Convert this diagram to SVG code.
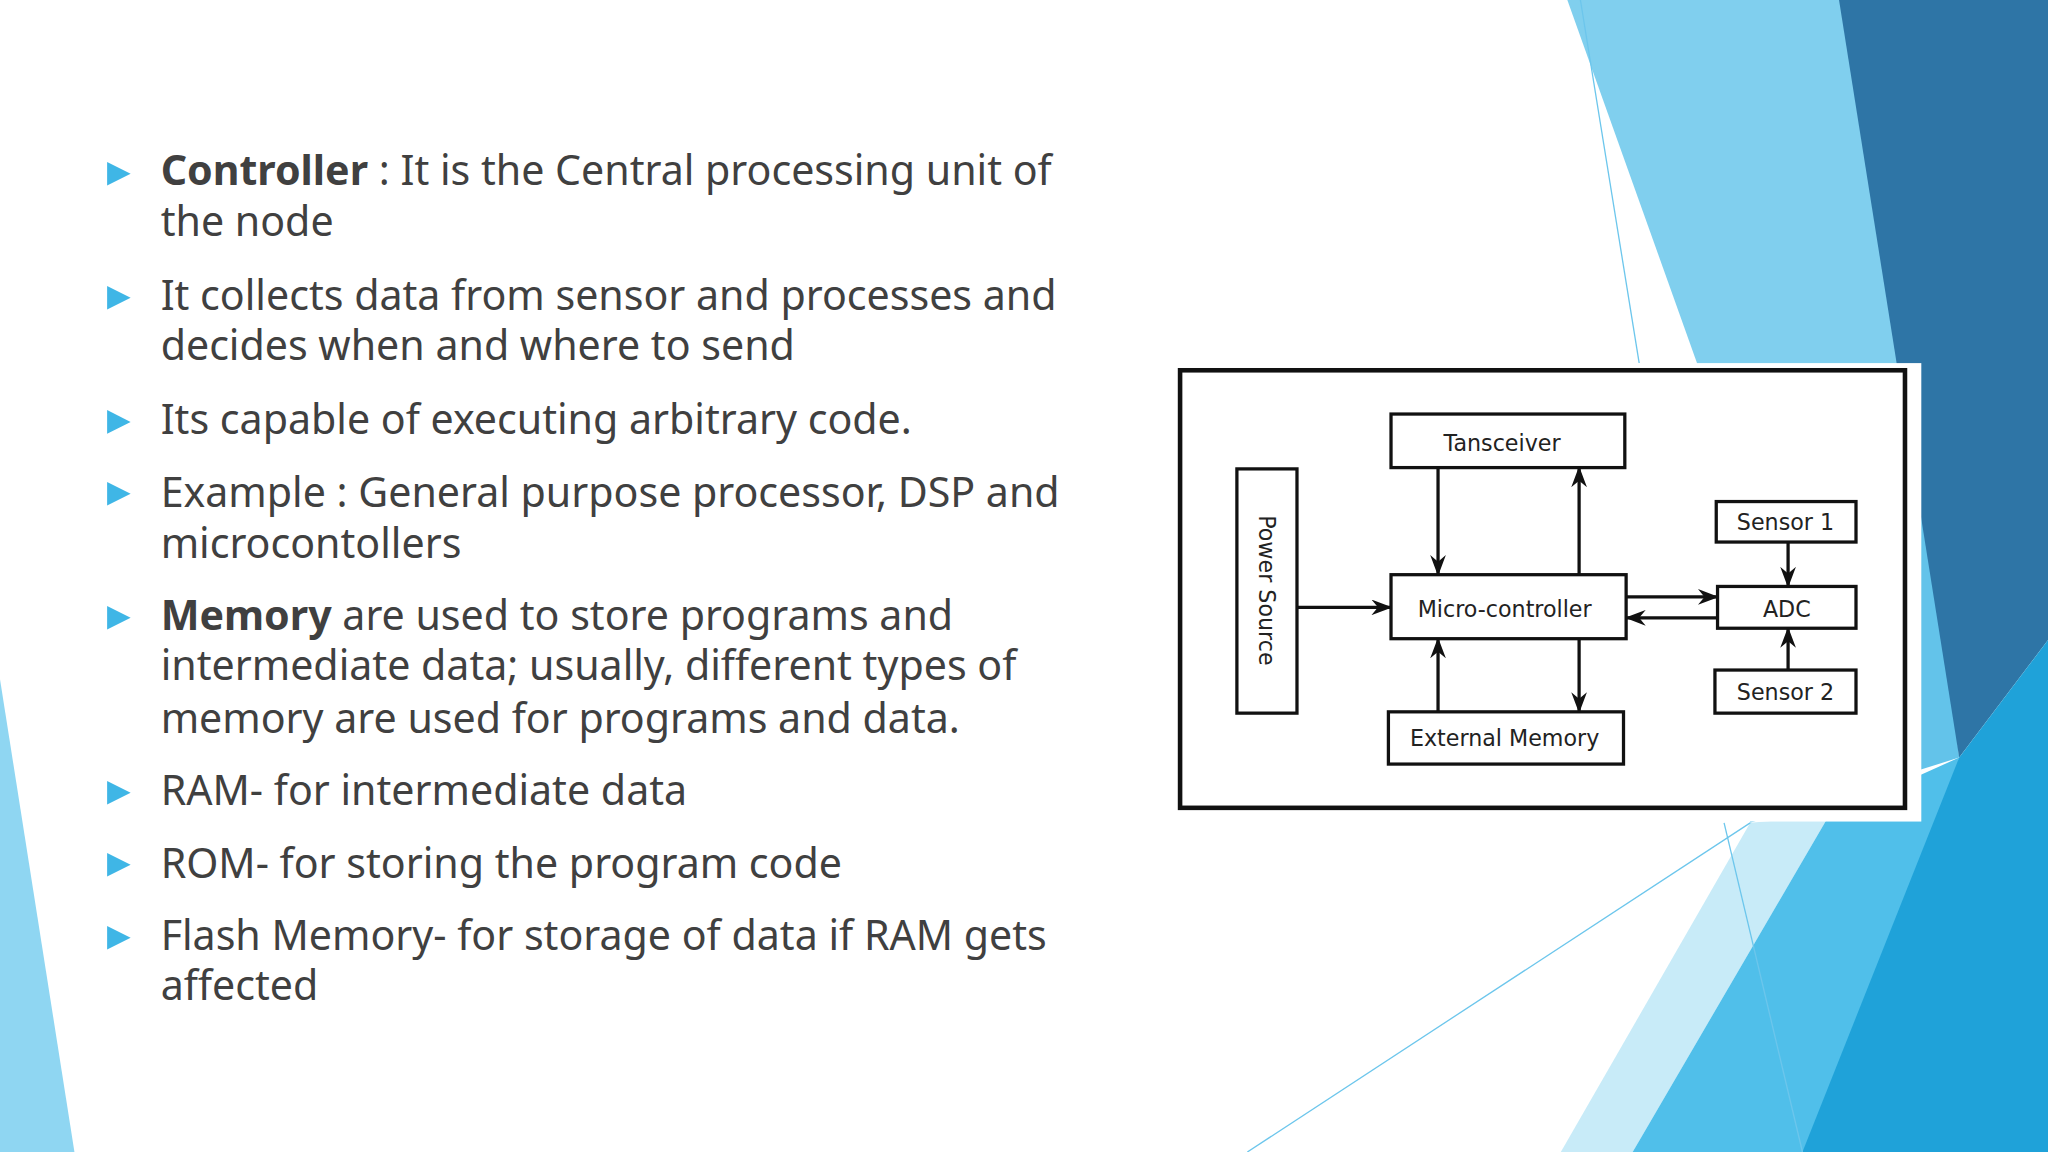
<svg xmlns="http://www.w3.org/2000/svg" width="2048" height="1152" viewBox="0 0 2048 1152">
<style>
.t{font-family:"Noto Sans","Open Sans",sans-serif;font-size:31.5px;fill:#404040}
.b{font-weight:bold}
.bul{fill:#3fb6e6}
.n{fill:#fff;stroke:#111;stroke-width:2.5}
.nt{font-family:"DejaVu Sans",sans-serif;font-size:17px;fill:#222;text-anchor:middle;dominant-baseline:central}
.c{stroke:#111;stroke-width:2.5;fill:none;marker-end:url(#ah)}
</style>
<defs>
<marker id="ah" viewBox="0 0 16 12" refX="15" refY="6" markerWidth="16" markerHeight="12" markerUnits="userSpaceOnUse" orient="auto">
<path d="M0,0 L16,6 L0,12 L5,6 z" fill="#111"/>
</marker>
</defs>
<rect width="2048" height="1152" fill="#fff"/>
<g transform="scale(1.306122)">
<g id="background">
<polygon points="1200,0 1410,0 1470,300 1300,280" fill="#80cfee"/>
<polygon points="1300,280 1470,300 1500,580 1340,630" fill="#63c3ea"/>
<polygon points="1408,0 1568,0 1568,490 1500,580" fill="#2e75a6"/>
<polygon points="1195,882 1340,630 1400,625 1250,882" fill="#c8ebf8"/>
<polygon points="1250,882 1400,625 1500,580 1440,882" fill="#50bfea"/>
<polygon points="1380,882 1500,580 1568,490 1568,882" fill="#1fa2d9"/>
<polygon points="0,520 0,882 57,882" fill="#8fd6f2"/>
<line x1="1210" y1="0" x2="1255" y2="278" stroke="#6cc6ec" stroke-width="1"/>
<line x1="955" y1="882" x2="1340" y2="630" stroke="#6cc6ec" stroke-width="1"/>
<line x1="1320" y1="630" x2="1380" y2="882" stroke="#6cc6ec" stroke-width="1"/>
</g>
<g id="bullets">
<polygon class="bul" points="82,124 100,133 82,142"/>
<polygon class="bul" points="82,219 100,228 82,237"/>
<polygon class="bul" points="82,314 100,323 82,332"/>
<polygon class="bul" points="82,369 100,378 82,387"/>
<polygon class="bul" points="82,464 100,473 82,482"/>
<polygon class="bul" points="82,598 100,607 82,616"/>
<polygon class="bul" points="82,653 100,662 82,671"/>
<polygon class="bul" points="82,709 100,718 82,727"/>
<text class="t" x="123" y="142"><tspan class="b">Controller</tspan> : It is the Central processing unit of</text>
<text class="t" x="123" y="181">the node</text>
<text class="t" x="123" y="237">It collects data from sensor and processes and</text>
<text class="t" x="123" y="276">decides when and where to send</text>
<text class="t" x="123" y="332">Its capable of executing arbitrary code.</text>
<text class="t" x="123" y="388">Example : General purpose processor, DSP and</text>
<text class="t" x="123" y="427">microcontollers</text>
<text class="t" x="123" y="482"><tspan class="b">Memory</tspan> are used to store programs and</text>
<text class="t" x="123" y="521">intermediate data; usually, different types of</text>
<text class="t" x="123" y="561">memory are used for programs and data.</text>
<text class="t" x="123" y="616">RAM- for intermediate data</text>
<text class="t" x="123" y="672">ROM- for storing the program code</text>
<text class="t" x="123" y="727">Flash Memory- for storage of data if RAM gets</text>
<text class="t" x="123" y="766">affected</text>
</g>
<g id="frame">
<rect x="900" y="278" width="571" height="351" fill="#fff"/>
<rect x="903.5" y="283.5" width="555" height="335" fill="none" stroke="#111" stroke-width="3.5"/>
</g>
<g id="connectors">
<line class="c" x1="1101" y1="358" x2="1101" y2="440"/>
<line class="c" x1="1209" y1="440" x2="1209" y2="358"/>
<line class="c" x1="993" y1="465" x2="1065" y2="465"/>
<line class="c" x1="1245" y1="457" x2="1315" y2="457"/>
<line class="c" x1="1315" y1="473" x2="1245" y2="473"/>
<line class="c" x1="1101" y1="545" x2="1101" y2="489"/>
<line class="c" x1="1209" y1="489" x2="1209" y2="545"/>
<line class="c" x1="1369" y1="415" x2="1369" y2="449"/>
<line class="c" x1="1369" y1="513" x2="1369" y2="481"/>
</g>
<g id="transceiver"><rect class="n" x="1065" y="317" width="179" height="41"/><text class="nt" x="1150" y="339">Tansceiver</text></g>
<g id="power"><rect class="n" x="947" y="359" width="46" height="187"/><text class="nt" transform="translate(970,452) rotate(90)">Power Source</text></g>
<g id="mc"><rect class="n" x="1065" y="440" width="180" height="49"/><text class="nt" x="1152" y="466">Micro-controller</text></g>
<g id="extmem"><rect class="n" x="1063" y="545" width="180" height="40"/><text class="nt" x="1152" y="565">External Memory</text></g>
<g id="sensor1"><rect class="n" x="1314" y="384" width="107" height="31"/><text class="nt" x="1367" y="400">Sensor 1</text></g>
<g id="adc"><rect class="n" x="1315" y="449" width="106" height="32"/><text class="nt" x="1368" y="466">ADC</text></g>
<g id="sensor2"><rect class="n" x="1313" y="513" width="108" height="33"/><text class="nt" x="1367" y="530">Sensor 2</text></g>
</g>
</svg>
